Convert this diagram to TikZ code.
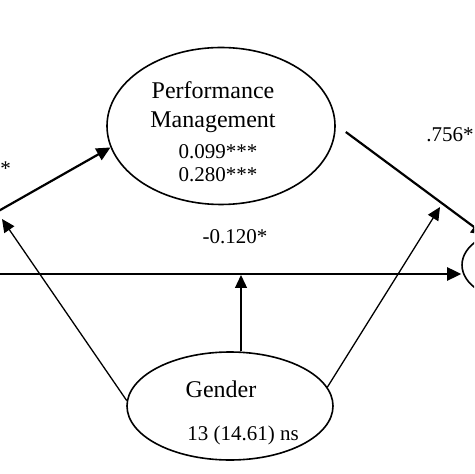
\documentclass[tikz,border=0pt]{standalone}
\usepackage{fontspec}
\setmainfont{Liberation Serif}
\usetikzlibrary{arrows.meta,shapes.geometric}

\begin{document}
\begin{tikzpicture}[x=0.5pt,y=-0.5pt, every node/.style={font=\fontsize{10.5}{12}\selectfont},
  construct/.style={draw,ellipse,line width=0.8pt,inner sep=0pt},
  varname/.style={font=\fontsize{12}{14}\selectfont,anchor=base,inner sep=0pt},
  lab/.style={anchor=base,inner sep=0pt},
  edge/.style={-{Triangle[length=7pt,width=6.5pt]},line width=1.1pt},
  thinedge/.style={-{Triangle[length=6.5pt,width=6pt]},line width=0.65pt}]
  \useasboundingbox (0,0) rectangle (474,474); \clip (0,0) rectangle (474,474);
  % constructs
  \node[construct,minimum width=114pt,minimum height=78.5pt] (pm) at (221,126) {};
  \node[construct,minimum width=103pt,minimum height=54pt] (gender) at (230,406) {};
  \node[construct,minimum width=54pt,minimum height=35pt] (outcome) at (516,265) {};
  \node[varname] (pmname) at (213,99) {Performance}; \node[varname] (pmname2) at (213,128)
  {Management}; \node[lab] (pmcoef1) at (218,159) {0.099***}; \node[lab] (pmcoef2)
  at (218,182) {0.280***}; \node[varname] (gname) at (221,397) {Gender}; \node[lab]
  (gcoef) at (243,440) {13 (14.61) ns};
  % free ends
  \coordinate (lin) at (-5,213); \coordinate (hin) at (-5,274); \coordinate (lefttip)
  at (2,219); \coordinate (modr) at (440,207); \coordinate (modm) at (241,275);
  % paths
  \draw[edge] (lin) -- (pm.191); \draw[edge] ([shift={(10,6)}]pm.east) --
  (outcome.136); \draw[edge,line width=1.3pt] (hin) -- (hin -| outcome.west);
  \draw[thinedge] (gender.177) -- (lefttip); \draw[thinedge] (gender.11) -- (modr);
  \draw[thinedge] (gender.north -| modm) -- (modm);
  \node[lab,anchor=base west] (b1) at (0,176) {*}; \node[lab,anchor=base west] (b2)
  at (426,142) {.756*}; \node[lab] (c1) at (235,244) {-0.120*};
\end{tikzpicture}
\end{document}
